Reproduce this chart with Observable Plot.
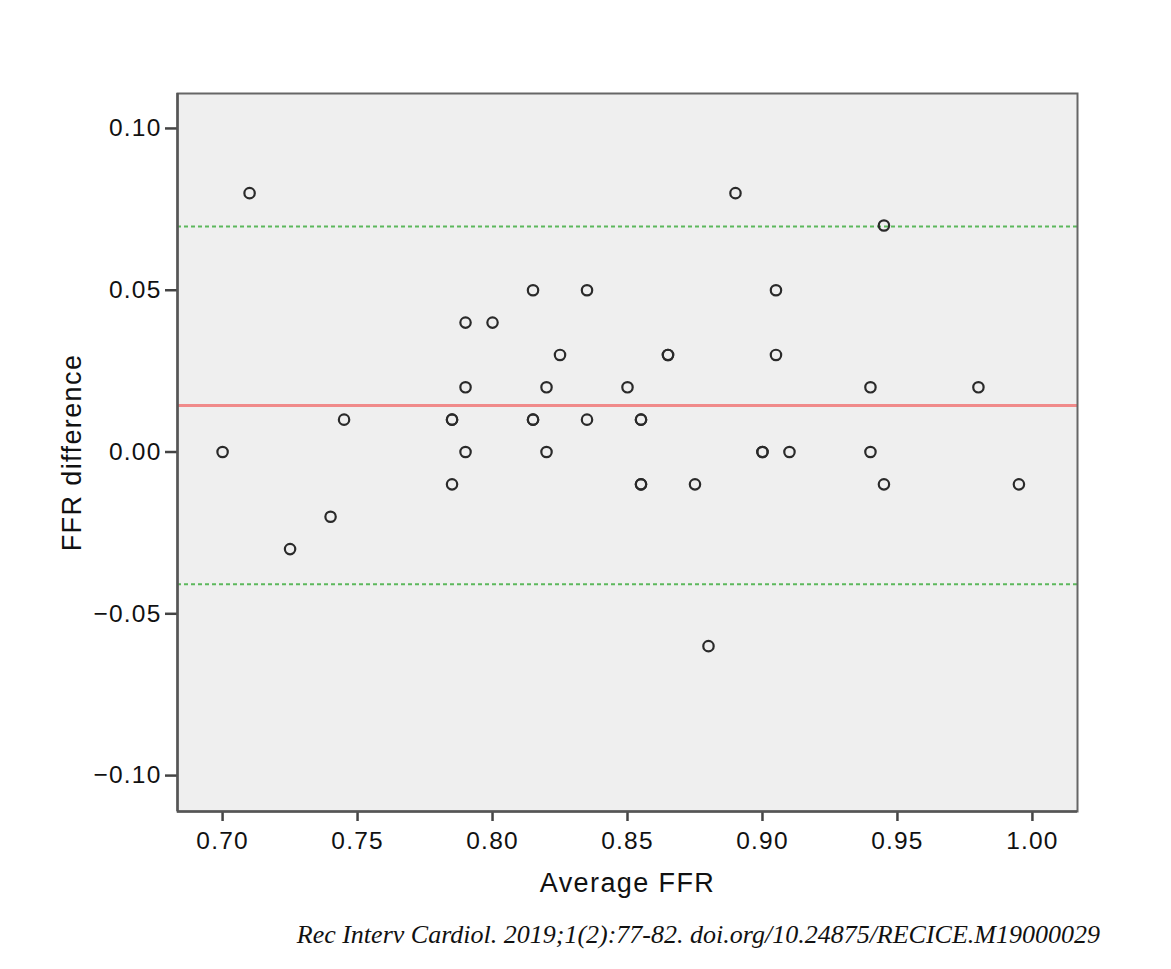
<!DOCTYPE html>
<html>
<head>
<meta charset="utf-8">
<script src="https://cdn.jsdelivr.net/npm/d3@7"></script>
<script src="https://cdn.jsdelivr.net/npm/@observablehq/plot@0.6"></script>
<style>
  body { margin: 0; background: #fff; }
  #chart { width: 1171px; }
  #caption { font-family: "Liberation Serif", serif; font-style: italic; font-size: 26px; color: #111;
    text-align: right; width: 1100px; margin-top: 15px; }
</style>
</head>
<body>
<div id="chart"></div>
<div id="caption">Rec Interv Cardiol. 2019;1(2):77-82. doi.org/10.24875/RECICE.M19000029</div>
<script>
// Bland–Altman data: average FFR vs FFR difference (repeated pairs = overlapping points)
const averageFFR = [0.70, 0.71, 0.725, 0.74, 0.745, 0.785, 0.785, 0.785, 0.79, 0.79, 0.79, 0.80,
  0.815, 0.815, 0.815, 0.82, 0.82, 0.825, 0.835, 0.835, 0.85, 0.855, 0.855, 0.855, 0.855,
  0.865, 0.865, 0.875, 0.88, 0.89, 0.90, 0.90, 0.905, 0.905, 0.91, 0.94, 0.94, 0.945, 0.945, 0.98, 0.995];
const ffrDifference = [0.00, 0.08, -0.03, -0.02, 0.01, 0.01, 0.01, -0.01, 0.04, 0.02, 0.00, 0.04,
  0.05, 0.01, 0.01, 0.02, 0.00, 0.03, 0.05, 0.01, 0.02, 0.01, 0.01, -0.01, -0.01,
  0.03, 0.03, -0.01, -0.06, 0.08, 0.00, 0.00, 0.05, 0.03, 0.00, 0.02, 0.00, 0.07, -0.01, 0.02, -0.01];
const meanDifference = [0.0144];
const limitsOfAgreement = [0.0697, -0.0409];
const xTicks = [0.70, 0.75, 0.80, 0.85, 0.90, 0.95, 1.00];
const yTicks = [-0.10, -0.05, 0.00, 0.05, 0.10];

const points = averageFFR.map((x, i) => ({x, y: ffrDifference[i]}));
const fmt = d3.format(".2f");

const chart = Plot.plot({
  width: 1171,
  height: 905,
  marginLeft: 177,
  marginRight: 94,
  marginTop: 93,
  marginBottom: 94,
  style: {fontFamily: "'Liberation Sans', Arial, sans-serif", fontSize: "24px", letterSpacing: "1.2px", background: "#fff", color: "#111"},
  x: {domain: [0.6833, 1.0167]},
  y: {domain: [-0.1111, 0.1108]},
  marks: [
    Plot.frame({fill: "#efefef", stroke: "none"}),
    Plot.ruleY(limitsOfAgreement, {stroke: "#5cb85c", strokeWidth: 2, strokeDasharray: "4,3"}),
    Plot.ruleY(meanDifference, {stroke: "#f08a8a", strokeWidth: 3}),
    Plot.dot(points, {x: "x", y: "y", r: 5.2, stroke: "#2a2a2a", strokeWidth: 2.2, fill: "none"}),
    Plot.frame({stroke: "#666", strokeWidth: 2}),
    Plot.axisX({ticks: xTicks, tickFormat: fmt, tickSize: 10, tickPadding: 10, fontSize: 24.5, stroke: "#444",
      strokeWidth: 2.5, label: "Average FFR", labelAnchor: "center", labelArrow: "none", labelOffset: 80}),
    Plot.axisY({ticks: yTicks, tickFormat: fmt, tickSize: 12, tickPadding: 4, fontSize: 24.5, stroke: "#444",
      strokeWidth: 2.5, label: "FFR difference", labelAnchor: "center", labelArrow: "none", labelOffset: 116}),
    Plot.ruleX([0.6833], {stroke: "#555", strokeWidth: 2.5}),
    Plot.ruleY([-0.1111], {stroke: "#555", strokeWidth: 2.5})
  ]
});
chart.querySelectorAll("g[aria-label='x-axis label'], g[aria-label='y-axis label']").forEach(g => {
  g.setAttribute("font-size", "27");
  g.setAttribute("letter-spacing", "1.4px");
});
document.getElementById("chart").append(chart);
</script>
</body>
</html>
